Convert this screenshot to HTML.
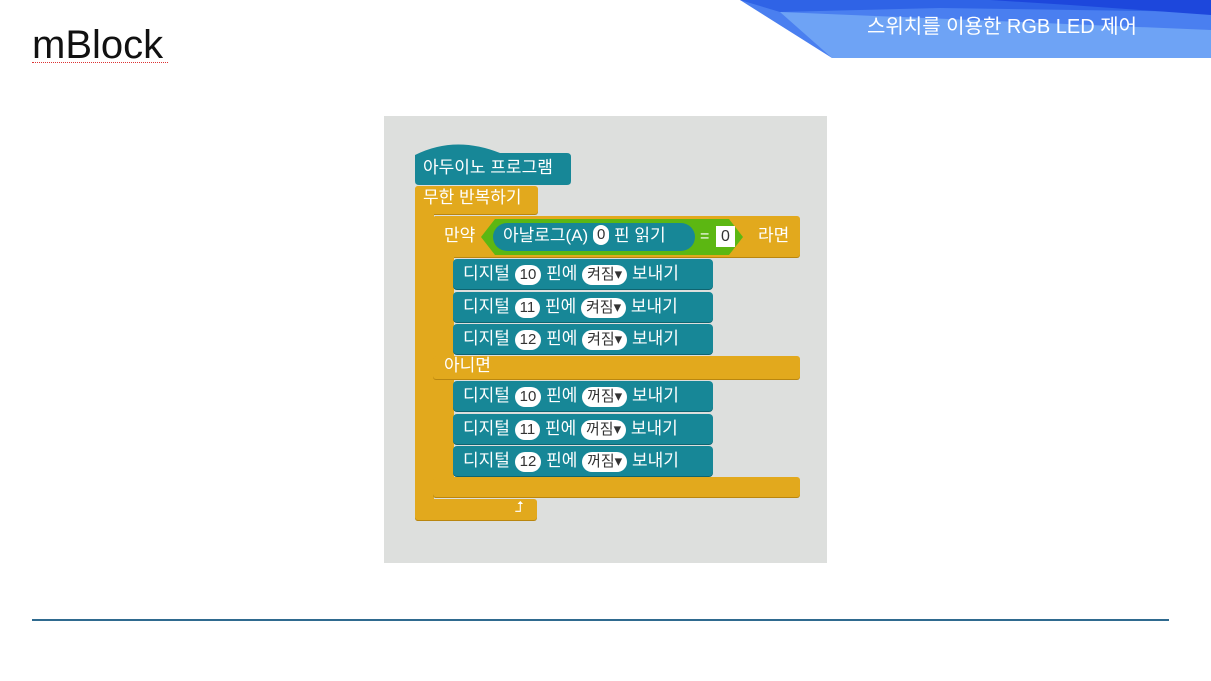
<!DOCTYPE html>
<html><head><meta charset="utf-8"><style>
body{margin:0;width:1211px;height:681px;background:#fff;position:relative;overflow:hidden;font-family:"Liberation Sans","Noto Sans CJK KR",sans-serif}
.a{position:absolute}
.t{background:#178797;border-radius:4px;box-shadow:0 1px 0 #0f6470}
.g{background:#e2a91d;border-radius:3px;box-shadow:0 1px 0 #b9860f}
.tx{position:absolute;color:#fff;font-size:16px;line-height:16px;white-space:nowrap}
.pill{display:inline-block;background:#fff;color:#333;border-radius:10px;padding:0 5px;font-size:15px;line-height:20px;vertical-align:middle}
.st{position:absolute;left:453px;width:260px;height:30px;background:#178797;border-radius:4px;box-shadow:0 1px 0 #0f6470}
.st span.l{position:absolute;left:10px;top:5px;color:#fff;font-size:17px;line-height:20px;white-space:nowrap}
</style></head><body>
<div class="a" style="left:32px;top:22px;font-size:40px;color:#111;line-height:46px">mBlock</div>
<div class="a" style="left:32px;top:60px;width:136px;height:2px;border-bottom:1px dotted #d33"></div>
<svg class="a" style="left:740px;top:0" width="471" height="60">
<polygon points="0,0 471,0 471,58 92,58" fill="#4a7ff0"/>
<polygon points="40,12 471,30 471,58 92,58" fill="#6ea3f5"/>
<polygon points="0,0 471,0 471,12 200,8 40,12" fill="#2f63e6"/>
<polygon points="250,0 471,0 471,15 330,5" fill="#1d47dc"/>
</svg>
<div class="tx" style="left:867px;top:16px;font-size:20px;line-height:22px">스위치를 이용한 RGB LED 제어</div>
<div class="a" style="left:384px;top:116px;width:443px;height:447px;background:#dddfdd"></div>
<!-- forever -->
<div class="a g" style="left:415px;top:186px;width:123px;height:28px"></div>
<div class="a g" style="left:415px;top:186px;width:19px;height:334px"></div>
<div class="a g" style="left:415px;top:499px;width:122px;height:21px"></div>
<div class="tx" style="left:423px;top:190px;font-size:17px">무한 반복하기</div>
<div class="tx" style="left:515px;top:500px;font-size:15px">⮥</div>
<!-- if -->
<div class="a g" style="left:433px;top:216px;width:367px;height:41px"></div>
<div class="a g" style="left:433px;top:216px;width:21px;height:281px"></div>
<div class="a g" style="left:433px;top:356px;width:367px;height:23px"></div>
<div class="a g" style="left:433px;top:477px;width:367px;height:20px"></div>
<div class="tx" style="left:444px;top:228px;font-size:17px">만약</div>
<div class="tx" style="left:444px;top:358px;font-size:17px">아니면</div>
<div class="tx" style="left:758px;top:228px;font-size:17px">라면</div>
<svg class="a" style="left:481px;top:219px" width="262" height="36"><polygon points="0,18 14,0 248,0 262,18 248,36 14,36" fill="#5cb712"/><rect x="12" y="4" width="202" height="28" rx="14" fill="#178797"/></svg>
<div class="tx" style="left:503px;top:228px;font-size:17px">아날로그(A) <span class="pill" style="padding:0 4px;margin-top:-3px">0</span> 핀 읽기</div>
<div class="tx" style="left:700px;top:229px">=</div>
<div class="a" style="left:716px;top:226px;width:19px;height:21px;background:#fff;color:#333;font-size:16px;text-align:center;line-height:21px">0</div>
<!-- hat -->
<svg class="a" style="left:415px;top:139px" width="156" height="46"><path d="M0,16 Q40,-4 85,14 L152,14 Q156,14 156,18 L156,42 Q156,46 152,46 L4,46 Q0,46 0,42Z" fill="#178797"/></svg>
<div class="tx" style="left:423px;top:160px;font-size:17px">아두이노 프로그램</div>
<div class="st" style="top:259px"><span class="l">디지털 <span class="pill">10</span> 핀에 <span class="pill">켜짐▾</span> 보내기</span></div>
<div class="st" style="top:292px"><span class="l">디지털 <span class="pill">11</span> 핀에 <span class="pill">켜짐▾</span> 보내기</span></div>
<div class="st" style="top:324px"><span class="l">디지털 <span class="pill">12</span> 핀에 <span class="pill">켜짐▾</span> 보내기</span></div>
<div class="st" style="top:381px"><span class="l">디지털 <span class="pill">10</span> 핀에 <span class="pill">꺼짐▾</span> 보내기</span></div>
<div class="st" style="top:414px"><span class="l">디지털 <span class="pill">11</span> 핀에 <span class="pill">꺼짐▾</span> 보내기</span></div>
<div class="st" style="top:446px"><span class="l">디지털 <span class="pill">12</span> 핀에 <span class="pill">꺼짐▾</span> 보내기</span></div>
<div class="a" style="left:32px;top:619px;width:1137px;height:2px;background:#2f6a8f"></div>
</body></html>
